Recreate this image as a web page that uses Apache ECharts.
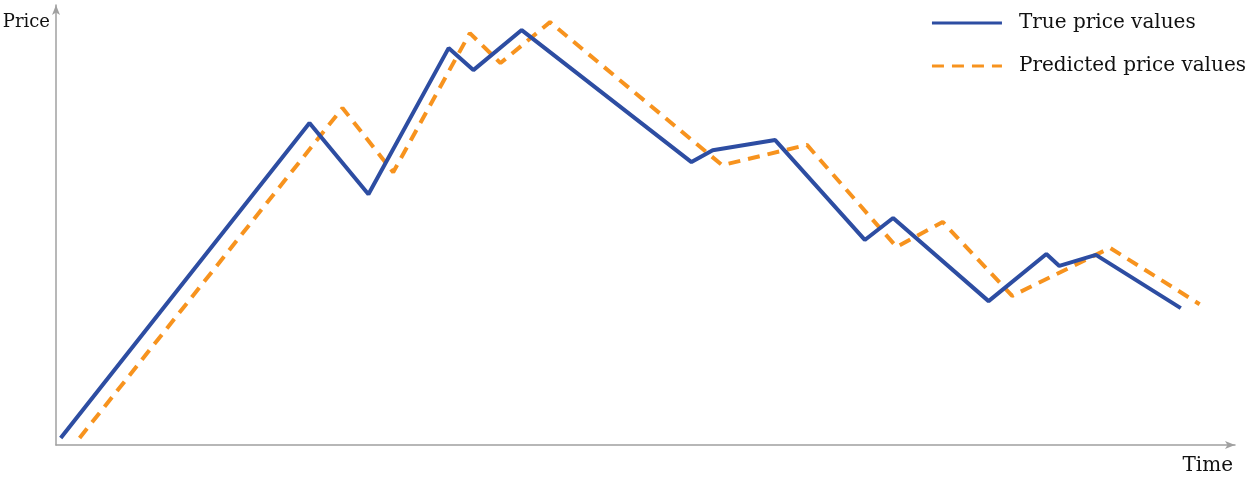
<!DOCTYPE html>
<html>
<head>
<meta charset="utf-8">
<script src="https://cdn.jsdelivr.net/npm/echarts@6/dist/echarts.min.js"></script>
<style>
  html, body { margin: 0; padding: 0; background: #fff; }
  #chart { width: 1250px; height: 479px; }
</style>
</head>
<body>
<div id="chart"></div>
<script>
// time is on a 0..100 scale, price too (no tick labels in the original)
const trueTime = [0.4, 21.5, 26.5, 33.3, 35.4, 39.5, 53.9, 55.7, 61.0, 68.6, 71.0, 79.1, 84.0, 85.1, 88.2, 95.4];
const truePrice = [1.6, 73.2, 57.0, 90.2, 85.2, 94.3, 64.3, 67.0, 69.3, 46.6, 51.6, 32.7, 43.4, 40.7, 43.2, 31.1];

const predTime = [2.0, 24.3, 28.6, 35.1, 37.7, 41.9, 56.5, 63.7, 71.3, 75.2, 81.1, 89.4, 97.0];
const predPrice = [1.6, 76.6, 62.0, 93.6, 86.8, 96.1, 63.6, 68.2, 45.0, 50.7, 33.9, 44.8, 32.0];

const seriesNames = ['True price values', 'Predicted price values'];

const blue = '#2d4da2';
const orange = '#f7931e';
const axisGray = '#a0a0a0';
const font = 'DejaVu Serif';

const chart = echarts.init(document.getElementById('chart'));

const option = {
  animation: false,
  backgroundColor: '#fff',
  grid: { left: 56, right: 15, top: 5, bottom: 34, outerBoundsMode: 'none', containLabel: false },
  legend: {
    orient: 'vertical',
    right: -1,
    top: 8,
    itemWidth: 70,
    itemHeight: 20,
    itemGap: 23,
    itemStyle: { opacity: 0 },
    lineStyle: { width: 3 },
    textStyle: { fontFamily: font, fontSize: 20, color: '#111', padding: [0, 0, 0, 12] },
    data: seriesNames
  },
  xAxis: {
    type: 'value',
    min: 0,
    max: 100,
    name: 'Time',
    nameLocation: 'end',
    nameGap: 0,
    nameTextStyle: { fontFamily: font, fontSize: 20, color: '#111', align: 'right', verticalAlign: 'top', padding: [11, 2, 0, 0] },
    axisLine: { lineStyle: { color: axisGray, width: 1.5 }, symbol: ['none', 'arrow'], symbolSize: [6, 10] },
    axisTick: { show: false },
    axisLabel: { show: false },
    splitLine: { show: false }
  },
  yAxis: {
    type: 'value',
    min: 0,
    max: 100,
    name: 'Price',
    nameLocation: 'end',
    nameGap: -17,
    nameTextStyle: { fontFamily: font, fontSize: 18, color: '#111', align: 'right', verticalAlign: 'middle', padding: [0, 6, 0, 0] },
    axisLine: { lineStyle: { color: axisGray, width: 1.5 }, symbol: ['none', 'arrow'], symbolSize: [6, 10] },
    axisTick: { show: false },
    axisLabel: { show: false },
    splitLine: { show: false }
  },
  series: [
    {
      name: seriesNames[0],
      type: 'line',
      symbol: 'none',
      data: trueTime.map((t, i) => [t, truePrice[i]]),
      lineStyle: { color: blue, width: 4 },
      itemStyle: { color: blue },
      z: 3
    },
    {
      name: seriesNames[1],
      type: 'line',
      symbol: 'none',
      data: predTime.map((t, i) => [t, predPrice[i]]),
      lineStyle: { color: orange, width: 4, type: [12, 8] },
      itemStyle: { color: orange },
      z: 2
    }
  ]
};

chart.setOption(option);
</script>
</body>
</html>
